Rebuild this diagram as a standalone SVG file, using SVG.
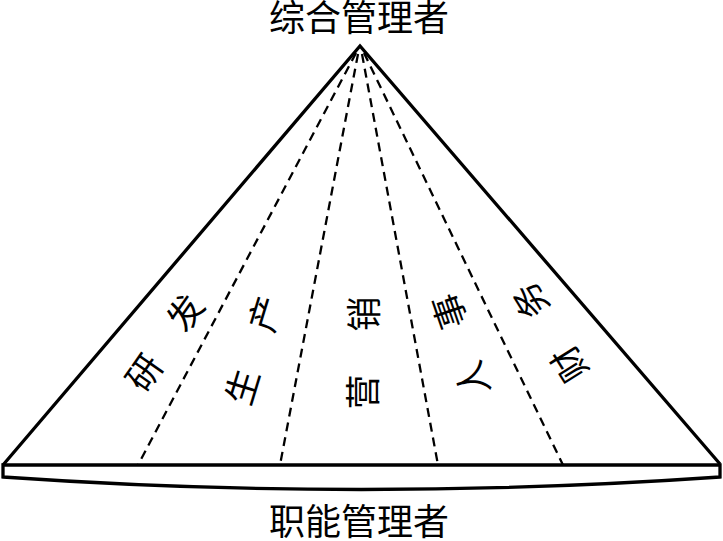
<svg xmlns="http://www.w3.org/2000/svg" width="723" height="541" viewBox="0 0 723 541">
<style>
  .t { font-family: "Noto Sans CJK SC", "DejaVu Sans", sans-serif; fill: #000; }
  .title { font-size: 36px; text-anchor: middle; }
  .lab { font-size: 35px; text-anchor: middle; dominant-baseline: central; }
  .edge { fill: none; stroke: #000; stroke-width: 3.3; stroke-linejoin: miter; }
  .dash { fill: none; stroke: #000; stroke-width: 2.3; stroke-dasharray: 9 6; }
</style>
<rect width="723" height="541" fill="#fff"/>
<g id="top-label"><text class="t title" x="359" y="31">综合管理者</text></g>
<g id="pyramid">
  <path class="edge" d="M3,465 L360,46 L720,464"/>
  <path class="edge" d="M3,465 L720,465 L720,477 Q361,502 3,477 Z"/>
</g>
<g id="connectors">
  <line class="dash" x1="356" y1="53" x2="138" y2="465"/>
  <line class="dash" x1="358" y1="54" x2="280" y2="465"/>
  <line class="dash" x1="362" y1="54" x2="438" y2="465"/>
  <line class="dash" x1="364" y1="53" x2="563" y2="465"/>
</g>
<g id="rd"><text class="t lab" transform="translate(142,371) rotate(-55)">研</text><text class="t lab" transform="translate(183,311) rotate(-55)">发</text></g>
<g id="production"><text class="t lab" transform="translate(240,386) rotate(-73)">生</text><text class="t lab" transform="translate(263,313) rotate(-73)">产</text></g>
<g id="marketing"><text class="t lab" transform="translate(360,392) rotate(-90)">营</text><text class="t lab" transform="translate(361,314) rotate(-90)">销</text></g>
<g id="hr"><text class="t lab" transform="translate(470,380) rotate(-109)">人</text><text class="t lab" transform="translate(447,312) rotate(-109)">事</text></g>
<g id="finance"><text class="t lab" transform="translate(567,365) rotate(-122)">财</text><text class="t lab" transform="translate(528,302) rotate(-122)">务</text></g>
<g id="bottom-label"><text class="t title" x="359" y="535">职能管理者</text></g>
</svg>
